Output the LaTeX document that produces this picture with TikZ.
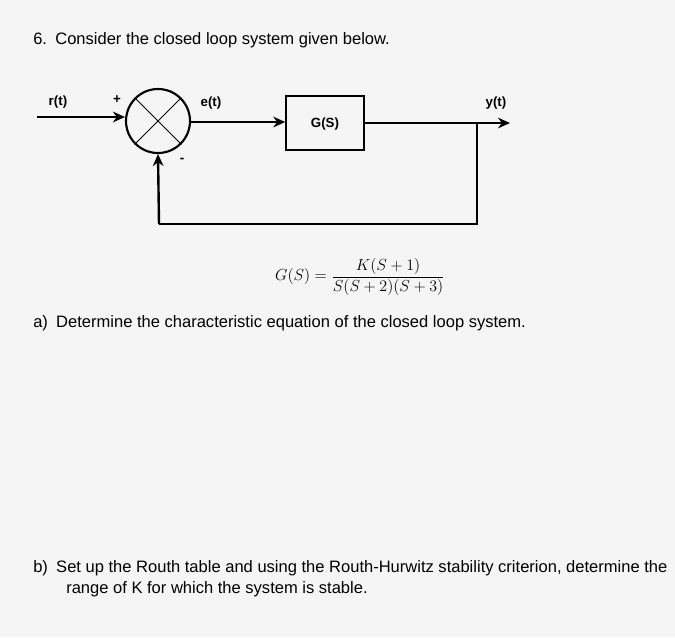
\documentclass[tikz,border=0pt]{standalone}
\usepackage{fontspec}
\setmainfont{Liberation Sans}
\usepackage{amsmath}
\usetikzlibrary{arrows.meta}
\begin{document}
\begin{tikzpicture}[x=0.75pt,y=-0.75pt,
  line/.style={line width=1.8pt},
  arr/.style={line, -{Stealth[length=9pt,width=8pt]}},
  txt/.style={font=\fontsize{12.4}{15}\selectfont, anchor=west, inner sep=0},
  lbl/.style={font=\fontsize{10}{12}\selectfont\bfseries, inner sep=0}]
\fill[white!96!black] (0,0) rectangle (675,637);
\useasboundingbox (0,0) rectangle (675,637);
\node[txt] (title) at (33,40) {6.\enspace Consider the closed loop system given below.};
\node[circle, draw, line width=1.6pt, minimum size=48pt, inner sep=0] (sum) at (158,121) {};
\draw[line width=0.6pt] (sum.north west) -- (sum.south east) (sum.north east) -- (sum.south west);
\coordinate (in) at (37,117);
\node[draw, line width=1.6pt, minimum width=58pt, minimum height=41pt, inner sep=0] (G) at (325,123) {};
\node[lbl] (Glbl) at (325,124) {G(S)};
\coordinate (branch) at (477,123);
\coordinate (out) at (510,123);
\coordinate (fb1) at (477,224);
\coordinate (fb2) at (159,224);
\draw[arr] (in) -- (sum.west |- in);
\draw[arr] (sum.east |- 0,122) -- (G.west |- 0,122);
\draw[arr] (G.east |- branch) -- (out);
\draw[line] (branch) -- (fb1) -- (fb2);
\draw[arr] (fb2) -- (sum.south);
\node[lbl] (rt) at (58,102) {r(t)};
\node[lbl] (plus) at (117,100) {+};
\node[lbl] (et) at (211,103) {e(t)};
\node[lbl] (yt) at (496,103) {y(t)};
\node[lbl] (minus) at (182,160) {-};
\node[font=\fontsize{12}{14}\selectfont, inner sep=0] (eq) at (360,277)
  {$G(S)=\dfrac{K(S+1)}{S(S+2)(S+3)}$};
\node[txt] (a) at (33,323) {a)\enspace Determine the characteristic equation of the closed loop system.};
\node[txt] (b1) at (33,568) {b)\enspace Set up the Routh table and using the Routh-Hurwitz stability criterion, determine the};
\node[txt] (b2) at (66,589) {range of K for which the system is stable.};
\end{tikzpicture}
\end{document}
